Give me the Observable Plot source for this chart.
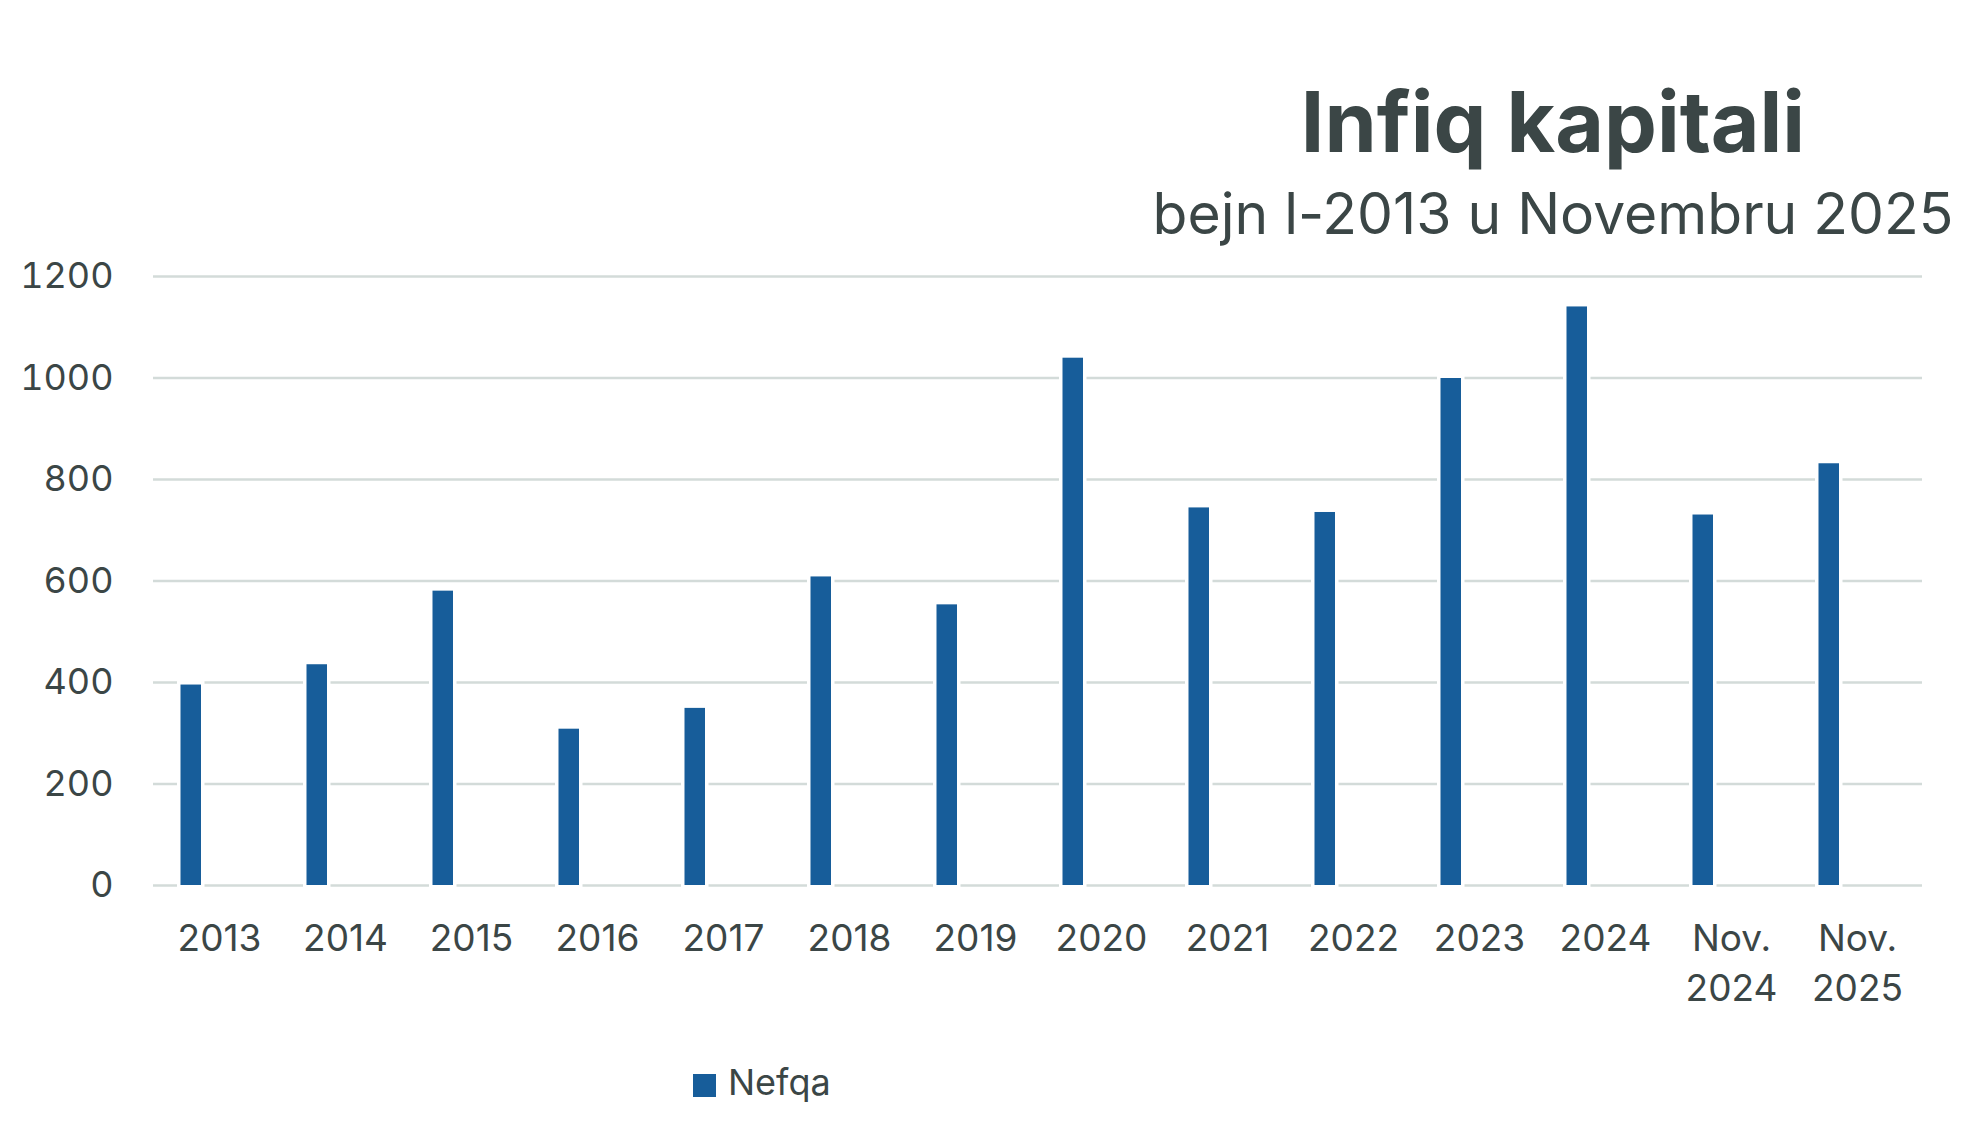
<!DOCTYPE html>
<html>
<head>
<meta charset="utf-8">
<script src="https://cdn.jsdelivr.net/npm/d3@7"></script>
<script src="https://cdn.jsdelivr.net/npm/@observablehq/plot@0.6"></script>
<style>
  html, body { margin: 0; padding: 0; background: #ffffff; overflow: hidden; }
  body { position: relative; width: 1969px; height: 1143px; font-family: Inter, "Noto Sans", sans-serif; color: #3b4646; }
  .title { position: absolute; left: 1053px; width: 1000px; top: 79.5px; text-align: center;
           font-size: 84px; line-height: 84px; font-weight: 700; white-space: nowrap; }
  .subtitle { position: absolute; left: 1053px; width: 1000px; top: 185px; text-align: center;
              font-size: 57px; line-height: 57px; font-weight: 400; white-space: nowrap; }
  #chart { position: absolute; left: 0; top: 250px; }
  .legend { position: absolute; left: 693px; top: 1064px; display: flex; align-items: flex-start;
            font-size: 36px; line-height: 36px; }
  .legend .swatch { width: 23px; height: 23px; margin-top: 10px; margin-right: 12px; }
</style>
</head>
<body>
<div class="title">Infiq kapitali</div>
<div class="subtitle">bejn l-2013 u Novembru 2025</div>
<div id="chart"></div>
<div class="legend"><span class="swatch"></span><span class="legend-label"></span></div>
<script>
// Capital expenditure per period
const categories = ["2013", "2014", "2015", "2016", "2017", "2018", "2019", "2020",
                    "2021", "2022", "2023", "2024", "Nov. 2024", "Nov. 2025"];
const values = [395, 435, 580, 308, 349, 608, 553, 1039, 744, 735, 999, 1140, 730, 831];
const yTicks = [0, 200, 400, 600, 800, 1000, 1200];
const seriesName = "Nefqa";

const barColor = "#175d9a";
const textColor = "#3b4646";
const gridColor = "#d3dbd9";

const data = categories.map((category, i) => ({category, value: values[i]}));

const chart = Plot.plot({
  width: 1969,
  height: 800,
  marginTop: 26,
  marginBottom: 165,
  marginLeft: 153,
  marginRight: 47,
  style: {fontFamily: "Inter, 'Noto Sans', sans-serif", color: textColor, background: "white"},
  x: {type: "band", domain: categories, padding: 0, label: null},
  y: {domain: [0, 1200], label: null},
  marks: [
    Plot.ruleY(yTicks, {stroke: gridColor, strokeWidth: 2.5}),
    // white halo around each bar breaks the gridlines
    Plot.barY(data, {
      x: "category", y: "value",
      fill: barColor, stroke: "white", strokeWidth: 7, paintOrder: "stroke",
      insetLeft: 24.5, insetRight: 81
    }),
    Plot.axisY(yTicks, {
      tickSize: 0, tickPadding: 40, fontSize: 36, fill: textColor, label: null,
      tickFormat: (d) => String(d)
    }),
    Plot.axisX({
      tickSize: 0, tickPadding: 30, fontSize: 37, fill: textColor, lineHeight: 1.35,
      tickFormat: (d) => d.replace(" ", "\n"), label: null
    })
  ]
});
document.getElementById("chart").appendChild(chart);

document.querySelector(".legend .swatch").style.background = barColor;
document.querySelector(".legend .legend-label").textContent = seriesName;
</script>
</body>
</html>
